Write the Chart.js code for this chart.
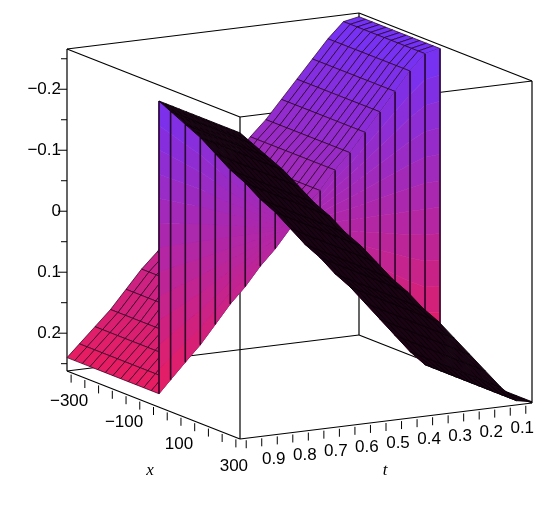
<!DOCTYPE html>
<html><head><meta charset="utf-8">
<script src="https://cdn.jsdelivr.net/npm/chart.js@4/dist/chart.umd.min.js"></script>
<style>html,body{margin:0;padding:0;background:#fff}#c{display:block}</style>
</head><body>
<canvas id="c" width="550" height="509"></canvas>
<script>
// ---- data ----
const tValues = [0.03,0.08,0.13,0.18,0.23,0.28,0.33,0.38,0.43,0.48,0.53,0.58,0.63,0.68,0.73,0.78,0.83,0.88,0.93,0.97];
const zLeft   = [-0.26,-0.255,-0.23,-0.2,-0.17,-0.14,-0.11,-0.085,-0.055,-0.03,0.0,0.03,0.055,0.085,0.11,0.14,0.17,0.195,0.22,0.24];
const zRight  = [0.26,0.255,0.23,0.2,0.17,0.14,0.11,0.085,0.055,0.03,0.0,-0.03,-0.055,-0.085,-0.11,-0.14,-0.17,-0.195,-0.22,-0.24];
const jumpX   = [-20,-18,-16,-14,-12,-10,-8,-6,-4,-2,0,2,4,6,8,10,12,14,17,20];
const xTicks  = [-300,-100,100,300];
const tTicks  = [0.9,0.8,0.7,0.6,0.5,0.4,0.3,0.2,0.1];
const zTicks  = [-0.2,-0.1,0,0.1,0.2];

// ---- view box ----
const X0=-315,X1=315,T0=0.03,T1=0.97,Z0=-0.266,Z1=0.262;
function P(x,t,z){const xn=(x-X0)/(X1-X0),tn=(T1-t)/(T1-T0),zn=(Z1-z)/(Z1-Z0);
  return {x:67+xn*173+tn*292,y:371+xn*68-tn*36-zn*322};}
function col(z){const f=Math.max(0,Math.min(1,(z-Z0)/(Z1-Z0)));
  const a=[112,50,250],b=[238,28,88];
  return `rgb(${a.map((v,i)=>Math.round(v+(b[i]-v)*f)).join(',')})`;}
function near(x,t){return (x-X0)/(X1-X0)+(t-T0)/(T1-T0);}

const quads=[];
const NX=12,NZ=12;
for(let i=0;i<tValues.length-1;i++){
  const t1=tValues[i],t2=tValues[i+1];
  for(let k=0;k<NX;k++){
    const a1=X0+(jumpX[i]-X0)*k/NX,b1=X0+(jumpX[i]-X0)*(k+1)/NX;
    const a2=X0+(jumpX[i+1]-X0)*k/NX,b2=X0+(jumpX[i+1]-X0)*(k+1)/NX;
    const zl=(zLeft[i]+zLeft[i+1])/2;
    quads.push({pts:[P(a1,t1,zLeft[i]),P(b1,t1,zLeft[i]),P(b2,t2,zLeft[i+1]),P(a2,t2,zLeft[i+1])],
      fill:col(zl),line:'rgba(40,0,30,0.8)',d:near((a1+b2)/2,(t1+t2)/2)});
    const c1=jumpX[i]+(X1-jumpX[i])*k/NX,e1=jumpX[i]+(X1-jumpX[i])*(k+1)/NX;
    const c2=jumpX[i+1]+(X1-jumpX[i+1])*k/NX,e2=jumpX[i+1]+(X1-jumpX[i+1])*(k+1)/NX;
    quads.push({pts:[P(c1,t1,zRight[i]),P(e1,t1,zRight[i]),P(e2,t2,zRight[i+1]),P(c2,t2,zRight[i+1])],
      fill:'rgb(24,4,18)',line:'rgb(10,0,8)',d:20+near((c1+e2)/2,(t1+t2)/2)});
  }
  for(let m=0;m<NZ;m++){
    const za1=zLeft[i]+(zRight[i]-zLeft[i])*m/NZ,zb1=zLeft[i]+(zRight[i]-zLeft[i])*(m+1)/NZ;
    const za2=zLeft[i+1]+(zRight[i+1]-zLeft[i+1])*m/NZ,zb2=zLeft[i+1]+(zRight[i+1]-zLeft[i+1])*(m+1)/NZ;
    const c=col((za1+zb1+za2+zb2)/4);
    quads.push({pts:[P(jumpX[i],t1,za1),P(jumpX[i],t1,zb1),P(jumpX[i+1],t2,zb2),P(jumpX[i+1],t2,za2)],
      fill:c,line:c,d:10+near(jumpX[i],(t1+t2)/2),wall:true});
  }
}
tValues.forEach((t,i)=>quads.push({line:[P(jumpX[i],t,zLeft[i]),P(jumpX[i],t,zRight[i])],d:19.9}));
quads.sort((a,b)=>a.d-b.d);

const drawList=[];
const cx=[X0,X1],ct=[T0,T1],cz=[Z0,Z1];
for(const t of ct)for(const z of cz)drawList.push([P(X0,t,z),P(X1,t,z)]);
for(const x of cx)for(const z of cz)drawList.push([P(x,T0,z),P(x,T1,z)]);
for(const x of cx)for(const t of ct)drawList.push([P(x,t,Z0),P(x,t,Z1)]);
const datasets=drawList.map(e=>({data:e,showLine:true,borderColor:'#000',borderWidth:1.2,pointRadius:0,fill:false}));
quads.forEach(q=>{
  if(q.line&&!q.pts){datasets.push({data:q.line,showLine:true,borderColor:'rgba(30,0,30,0.9)',borderWidth:1.6,pointRadius:0,fill:false});return;}
  datasets.push({data:[...q.pts,q.pts[0]],showLine:true,fill:'shape',
    backgroundColor:q.fill,borderColor:q.line,borderWidth:q.wall?0.6:0.9,pointRadius:0});
});
// Chart.js paints the first dataset on top, so reverse to get back-to-front painting
datasets.reverse();

const labels={id:'labels',afterDraw(ch){
  const c=ch.ctx,sx=ch.scales.x,sy=ch.scales.y;
  const px=p=>[sx.getPixelForValue(p.x),sy.getPixelForValue(p.y)];
  c.save();c.strokeStyle='#000';c.fillStyle='#000';c.lineWidth=1;
  c.font='17px "Liberation Sans"';
  c.textAlign='right';c.textBaseline='middle';
  for(let z=-0.25;z<=0.251;z+=0.05){const [a,b]=px(P(X0,T1,z));const major=zTicks.some(v=>Math.abs(v-z)<1e-6);
    c.beginPath();c.moveTo(a,b);c.lineTo(a-(major?9:6),b);c.stroke();}
  zTicks.forEach(z=>{const [a,b]=px(P(X0,T1,z));c.fillText(z===0?'0':(z<0?'\u2212'+Math.abs(z):String(z)),a-6,b);});
  c.textAlign='center';c.textBaseline='top';
  for(let x=-300;x<=300;x+=50){const [a,b]=px(P(x,T1,Z1));c.beginPath();c.moveTo(a,b+2);c.lineTo(a,b+10);c.stroke();}
  xTicks.forEach(x=>{const [a,b]=px(P(x,T1,Z1));c.fillText(x<0?'\u2212'+Math.abs(x):String(x),a-2,b+20);});
  for(let t=0.05;t<=0.951;t+=0.05){const [a,b]=px(P(X1,t,Z1));c.beginPath();c.moveTo(a,b+2);c.lineTo(a,b+10);c.stroke();}
  tTicks.forEach(t=>{const [a,b]=px(P(X1,t,Z1));c.fillText(String(t),a+12,b+14);});
  c.font='italic 17px "Liberation Serif"';
  c.fillText('x',150,462);c.fillText('t',385,462);
  c.restore();}};

new Chart(document.getElementById('c'),{type:'scatter',data:{datasets},
  options:{responsive:false,animation:false,layout:{padding:0},
    plugins:{legend:{display:false},tooltip:{enabled:false}},
    elements:{line:{tension:0}},
    scales:{x:{type:'linear',min:0,max:550,display:false},y:{type:'linear',min:0,max:509,reverse:true,display:false}}},
  plugins:[labels]});
</script></body></html>
